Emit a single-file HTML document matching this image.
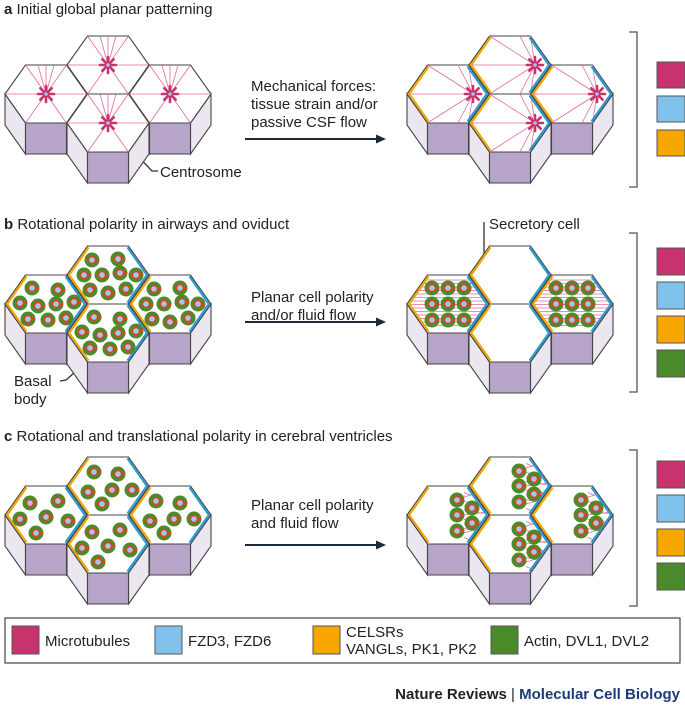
<!DOCTYPE html>
<html><head><meta charset="utf-8"><style>
body{margin:0;background:#fff;}
svg{display:block;font-family:"Liberation Sans",sans-serif;}
</style></head><body>
<svg id="s" width="685" height="720" viewBox="0 0 685 720" xmlns="http://www.w3.org/2000/svg">
<g font-size="15" fill="#222">
<text x="4" y="14"><tspan font-weight="bold">a</tspan>  Initial global planar patterning</text>
<text x="4" y="229"><tspan font-weight="bold">b</tspan>  Rotational polarity in airways and oviduct</text>
<text x="4" y="441"><tspan font-weight="bold">c</tspan>  Rotational and translational polarity in cerebral ventricles</text>
<text x="251" y="91">Mechanical forces:</text>
<text x="251" y="109">tissue strain and/or</text>
<text x="251" y="127">passive CSF flow</text>
<text x="251" y="302">Planar cell polarity</text>
<text x="251" y="320">and/or fluid flow</text>
<text x="251" y="510">Planar cell polarity</text>
<text x="251" y="528">and fluid flow</text>
<text x="160" y="177">Centrosome</text>
<text x="489" y="229">Secretory cell</text>
<text x="14" y="386">Basal</text>
<text x="14" y="404">body</text>
</g>
<g stroke="#333" stroke-width="1.3" fill="none">
<polyline points="132,150 152,171 158,171"/>
<line x1="484" y1="222" x2="484" y2="272"/>
<polyline points="60,381 66,380 106,345"/>
</g>
<g id="arrows" stroke="#1d2a3a" stroke-width="2" fill="#1d2a3a">
<line x1="245" y1="139" x2="378" y2="139"/><polygon points="386,139 376,134.5 376,143.5" stroke="none"/>
<line x1="245" y1="322" x2="378" y2="322"/><polygon points="386,322 376,317.5 376,326.5" stroke="none"/>
<line x1="245" y1="545" x2="378" y2="545"/><polygon points="386,545 376,540.5 376,549.5" stroke="none"/>
</g>
<g stroke="#555" stroke-width="1.3" fill="none">
<polyline points="629,32 637,32 637,187 629,187"/>
<polyline points="629,233 637,233 637,392 629,392"/>
<polyline points="629,450 637,450 637,606 629,606"/>
</g>
<g stroke="#555" stroke-width="1">
<rect x="657" y="62" width="28" height="26" fill="#c8336e"/>
<rect x="657" y="96" width="28" height="26" fill="#80c2ec"/>
<rect x="657" y="130" width="28" height="26" fill="#f7a600"/>
<rect x="657" y="248" width="28" height="27" fill="#c8336e"/>
<rect x="657" y="282" width="28" height="27" fill="#80c2ec"/>
<rect x="657" y="316" width="28" height="27" fill="#f7a600"/>
<rect x="657" y="350" width="28" height="27" fill="#4a8a2a"/>
<rect x="657" y="461" width="28" height="27" fill="#c8336e"/>
<rect x="657" y="495" width="28" height="27" fill="#80c2ec"/>
<rect x="657" y="529" width="28" height="27" fill="#f7a600"/>
<rect x="657" y="563" width="28" height="27" fill="#4a8a2a"/>
</g>
<rect x="5" y="618" width="675" height="45" fill="none" stroke="#444" stroke-width="1.2"/>
<g stroke="#555" stroke-width="1">
<rect x="12" y="626" width="27" height="28" fill="#c8336e"/>
<rect x="155" y="626" width="27" height="28" fill="#80c2ec"/>
<rect x="313" y="626" width="27" height="28" fill="#f7a600"/>
<rect x="491" y="626" width="27" height="28" fill="#4a8a2a"/>
</g>
<g font-size="15" fill="#222">
<text x="45" y="646">Microtubules</text>
<text x="188" y="646">FZD3, FZD6</text>
<text x="346" y="637">CELSRs</text>
<text x="346" y="654">VANGLs, PK1, PK2</text>
<text x="524" y="646">Actin, DVL1, DVL2</text>
</g>
<text x="680" y="699" text-anchor="end" font-size="15" font-weight="bold" fill="#222">Nature Reviews <tspan font-weight="normal">|</tspan> <tspan fill="#1b3c78">Molecular Cell Biology</tspan></text>
<g id="cells"></g>
</svg>
<script>
var NS="http://www.w3.org/2000/svg",G=document.getElementById("cells");
function el(t,a){var e=document.createElementNS(NS,t);for(var k in a)e.setAttribute(k,a[k]);G.appendChild(e);return e;}
var R=41,A=20.5,H=29,D=31;
function P(a){return a.map(function(p){return p[0].toFixed(1)+","+p[1].toFixed(1)}).join(" ");}
function hv(cx,cy){return [[cx-R,cy],[cx-A,cy-H],[cx+A,cy-H],[cx+R,cy],[cx+A,cy+H],[cx-A,cy+H]];}
function prism(cx,cy){
 el("polygon",{points:P([[cx-R,cy],[cx-A,cy+H],[cx-A,cy+H+D],[cx-R,cy+D]]),fill:"#ebe6f0",stroke:"#444","stroke-width":1.1});
 el("polygon",{points:P([[cx+R,cy],[cx+A,cy+H],[cx+A,cy+H+D],[cx+R,cy+D]]),fill:"#ebe6f0",stroke:"#444","stroke-width":1.1});
 el("polygon",{points:P([[cx-A,cy+H],[cx+A,cy+H],[cx+A,cy+H+D],[cx-A,cy+H+D]]),fill:"#b7a4c9",stroke:"#444","stroke-width":1.1});
 el("polygon",{points:P(hv(cx,cy)),fill:"#fff",stroke:"#444","stroke-width":1.1});
}
function edges(cx,cy,full){
 var s=0.95,v=hv(cx,cy).map(function(p){return [cx+(p[0]-cx)*s,cy+(p[1]-cy)*s]});
 el("polyline",{points:P([v[1],v[0],v[5]]),fill:"none",stroke:"#f0a500","stroke-width":2.2});
 el("polyline",{points:P([v[2],v[3],v[4]]),fill:"none",stroke:"#2a9ad6","stroke-width":2.2});
}
function star(x,y){
 for(var i=0;i<8;i++){var a=i*Math.PI/4;el("line",{x1:x,y1:y,x2:x+8*Math.cos(a),y2:y+8*Math.sin(a),stroke:"#c8336e","stroke-width":2.6,"stroke-linecap":"round"});}
 el("circle",{cx:x,cy:y,r:3.2,fill:"#c8336e"});el("circle",{cx:x,cy:y,r:1.8,fill:"#9fc8ee"});
}
function bb(x,y,ang,teardrop){
 el("circle",{cx:x,cy:y,r:7.5,fill:"#4e8a2c"});
 var a=(ang||0)*Math.PI/180;
 el("line",{x1:x,y1:y,x2:x+7*Math.cos(a),y2:y+7*Math.sin(a),stroke:"#e0401e","stroke-width":2.4});
 el("circle",{cx:x,cy:y,r:4.2,fill:"#e0401e"});
 el("circle",{cx:x,cy:y,r:2.8,fill:"#9fc8ee"});
}
function cells(ox,oy){return [[ox+62,oy+65],[ox,oy+94],[ox+124,oy+94],[ox+62,oy+123]];}
cells(46,0).forEach(function(c){prism(c[0],c[1]);var v=hv(c[0],c[1]);
 v.forEach(function(p){el("line",{x1:c[0],y1:c[1],x2:p[0],y2:p[1],stroke:"#e06a9a","stroke-width":0.8})});
 [-8,0,8].forEach(function(d){el("line",{x1:c[0],y1:c[1],x2:c[0]+d,y2:c[1]-H,stroke:"#e06a9a","stroke-width":0.8})});
 star(c[0],c[1]);});
cells(448,0).forEach(function(c){prism(c[0],c[1]);var v=hv(c[0],c[1]),sx=c[0]+25,sy=c[1];
 [v[0],v[1],v[2],v[4],v[5],[c[0]+10,c[1]-H],[c[0]+10,c[1]+H]].forEach(function(p){el("line",{x1:sx,y1:sy,x2:p[0],y2:p[1],stroke:"#e06a9a","stroke-width":0.8})});
 edges(c[0],c[1]);star(sx,sy);});
var sets=[[[-16,-15,0],[10,-16,0],[-24,0,0],[-6,0,10],[12,-2,0],[28,0,0],[-18,15,-30],[0,18,0],[18,14,90]],
[[-14,-16,0],[12,-14,0],[-26,-1,0],[-8,2,0],[10,0,0],[28,-2,0],[-18,15,0],[2,16,0],[20,14,90]]];
cells(46,210).forEach(function(c,i){prism(c[0],c[1]);edges(c[0],c[1]);
 sets[i%2].forEach(function(p){bb(c[0]+p[0],c[1]+p[1],p[2]);});});
cells(448,210).forEach(function(c,i){prism(c[0],c[1]);
 if(i==1||i==2){for(var y=-24;y<=24;y+=3.5){var w=R-(Math.abs(y)/H)*A;el("line",{x1:c[0]-w+2,y1:c[1]+y,x2:c[0]+w-2,y2:c[1]+y,stroke:"#e06a9a","stroke-width":0.7});}
  edges(c[0],c[1]);
  [-16,0,16].forEach(function(dy){[-16,0,16].forEach(function(dx){bb(c[0]+dx,c[1]+dy,0);});});}
 else{edges(c[0],c[1]);}
});
var cs=[[[-14,-14,0],[10,-12,0],[-20,6,0],[4,4,0],[24,4,0],[-6,18,0]],[[-16,-12,0],[12,-14,0],[-26,4,0],[0,2,0],[22,6,0],[-10,18,0]]];
cells(46,421).forEach(function(c,i){prism(c[0],c[1]);edges(c[0],c[1]);cs[i%2].forEach(function(p){bb(c[0]+p[0],c[1]+p[1],p[2]);});});
cells(448,421).forEach(function(c){prism(c[0],c[1]);var v=hv(c[0],c[1]);
 for(var k=-5;k<=5;k++){var y=c[1]+k*4.5;el("line",{x1:c[0]+16,y1:y,x2:c[0]+R-Math.abs(k*4.5)/H*A-2,y2:y+(k%2?3:-3),stroke:"#e06a9a","stroke-width":0.7});}
 edges(c[0],c[1]);
 [[9,-15],[9,0],[9,16],[24,-7],[24,8]].forEach(function(p){bb(c[0]+p[0],c[1]+p[1],0);});});
</script>
</body></html>
